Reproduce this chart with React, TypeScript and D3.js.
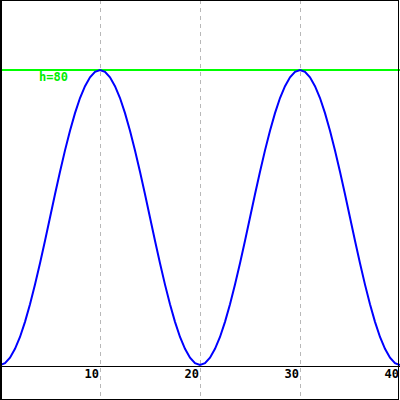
import React, { useEffect, useRef } from 'react';
import * as d3 from 'd3';

// heights, every half unit from x=0 to x=40
const hValues = [
  0, 0.5, 2.0, 4.4, 7.6, 11.7, 16.5, 21.8, 27.6, 33.7,
  40, 46.3, 52.4, 58.2, 63.5, 68.3, 72.4, 75.6, 78.0, 79.5,
  80, 79.5, 78.0, 75.6, 72.4, 68.3, 63.5, 58.2, 52.4, 46.3,
  40, 33.7, 27.6, 21.8, 16.5, 11.7, 7.6, 4.4, 2.0, 0.5,
  0, 0.5, 2.0, 4.4, 7.6, 11.7, 16.5, 21.8, 27.6, 33.7,
  40, 46.3, 52.4, 58.2, 63.5, 68.3, 72.4, 75.6, 78.0, 79.5,
  80, 79.5, 78.0, 75.6, 72.4, 68.3, 63.5, 58.2, 52.4, 46.3,
  40, 33.7, 27.6, 21.8, 16.5, 11.7, 7.6, 4.4, 2.0, 0.5,
  0,
];
const xStep = 0.5;
const xTicks = [10, 20, 30, 40];
const gridTicks = [10, 20, 30];
const hLine = 80;
const hLabel = 'h=80';

const App = () => {
  const svgRef = useRef<SVGSVGElement>(null);

  useEffect(() => {
    const svg = d3.select(svgRef.current);
    svg.selectAll('*').remove();

    const width = 400;
    const height = 400;
    const axisY = 366;
    const font = "'DejaVu Sans Mono', monospace";

    const x = d3.scaleLinear().domain([0, 40]).range([0, 400]);
    const y = d3.scaleLinear().domain([0, 80]).range([365, 70]);

    svg.append('rect')
      .attr('width', width)
      .attr('height', height)
      .attr('fill', 'white');

    // dashed vertical grid
    svg.selectAll('.grid')
      .data(gridTicks)
      .enter()
      .append('line')
      .attr('x1', d => x(d) + 0.5)
      .attr('x2', d => x(d) + 0.5)
      .attr('y1', 0)
      .attr('y2', height)
      .attr('stroke', '#b8b8b8')
      .attr('stroke-width', 1)
      .attr('stroke-dasharray', '4,4')
      .attr('shape-rendering', 'crispEdges');

    // x axis line
    svg.append('line')
      .attr('x1', 0)
      .attr('x2', width)
      .attr('y1', axisY + 0.5)
      .attr('y2', axisY + 0.5)
      .attr('stroke', 'black')
      .attr('stroke-width', 1)
      .attr('shape-rendering', 'crispEdges');

    // tick labels
    svg.selectAll('.tick-label')
      .data(xTicks)
      .enter()
      .append('text')
      .attr('x', d => x(d) - 1)
      .attr('y', 378)
      .attr('text-anchor', 'end')
      .attr('font-family', font)
      .attr('font-weight', 'bold')
      .attr('font-size', 12)
      .attr('fill', 'black')
      .text(d => d);

    // h line
    svg.append('line')
      .attr('x1', 0)
      .attr('x2', width)
      .attr('y1', y(hLine))
      .attr('y2', y(hLine))
      .attr('stroke', '#00ff00')
      .attr('stroke-width', 1.5)
      .attr('shape-rendering', 'crispEdges');

    svg.append('text')
      .attr('x', 39)
      .attr('y', 81)
      .attr('font-family', font)
      .attr('font-weight', 'bold')
      .attr('font-size', 12)
      .attr('fill', '#00ee00')
      .text(hLabel);

    // curve
    const line = d3.line<number>()
      .x((_, i) => x(i * xStep))
      .y(d => y(d));

    svg.append('path')
      .datum(hValues)
      .attr('d', line)
      .attr('fill', 'none')
      .attr('stroke', '#0000ff')
      .attr('stroke-width', 2);

    // frame
    svg.append('rect')
      .attr('x', 0.5)
      .attr('y', 0.5)
      .attr('width', 398)
      .attr('height', 398.5)
      .attr('fill', 'none')
      .attr('stroke', 'black')
      .attr('stroke-width', 1)
      .attr('shape-rendering', 'crispEdges');
    svg.append('line')
      .attr('x1', 1.5)
      .attr('x2', 1.5)
      .attr('y1', 0)
      .attr('y2', height)
      .attr('stroke', 'black')
      .attr('stroke-width', 1)
      .attr('shape-rendering', 'crispEdges');
  }, []);

  return (
    <svg
      ref={svgRef}
      width={400}
      height={400}
      style={{ position: 'absolute', left: 0, top: 0, display: 'block' }}
    />
  );
};

export default App;
